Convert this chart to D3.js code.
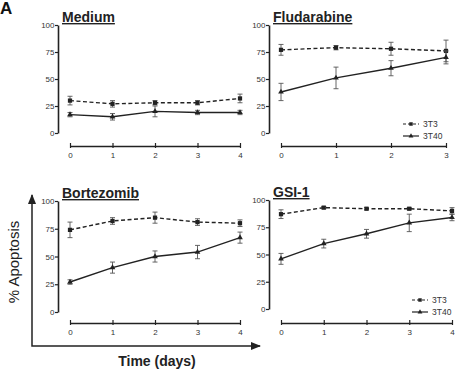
<!DOCTYPE html>
<html>
<head>
<meta charset="utf-8">
<script src="https://cdn.jsdelivr.net/npm/d3@7"></script>
<style>
  body { margin: 0; background: #fff; }
  svg { font-family: "Liberation Sans", Arial, sans-serif; }
</style>
</head>
<body>
<svg width="474" height="374"></svg>
<script>
var svg = d3.select("svg")

// ---- data ----
var titles = ["Medium", "Fludarabine", "Bortezomib", "GSI-1"]
var days4 = [0, 1, 2, 3, 4]
var days3 = [0, 1, 2, 3]
var yTicks = [0, 25, 50, 75, 100]
var seriesNames = ["3T3", "3T40"]

var medium3T3 = [30, 27, 28, 28, 32]
var medium3T3Err = [4, 3, 2, 2, 4]
var medium3T40 = [17, 15, 20, 19, 19]
var medium3T40Err = [2, 3, 5, 2, 2]

var fluda3T3 = [77, 79, 78, 76]
var fluda3T3Err = [5, 2, 6, 10]
var fluda3T40 = [38, 51, 60, 70]
var fluda3T40Err = [8, 10, 7, 6]

var bort3T3 = [74, 82, 85, 81, 80]
var bort3T3Err = [7, 3, 5, 3, 3]
var bort3T40 = [27, 40, 50, 54, 67]
var bort3T40Err = [2, 5, 5, 6, 5]

var gsi3T3 = [87, 93, 92, 92, 90]
var gsi3T3Err = [4, 1, 1, 1, 3]
var gsi3T40 = [46, 60, 69, 79, 84]
var gsi3T40Err = [5, 4, 4, 8, 3]

var panels = [
  {title: titles[0], days: days4, a: medium3T3, ae: medium3T3Err, b: medium3T40, be: medium3T40Err,
   x0: 70, x1: 240, yTop: 25, yBot: 133, axX: 58, axY: 146, legend: false},
  {title: titles[1], days: days3, a: fluda3T3, ae: fluda3T3Err, b: fluda3T40, be: fluda3T40Err,
   x0: 281, x1: 446, yTop: 25, yBot: 133, axX: 269, axY: 146, legend: true, lx: 403, ly: 127},
  {title: titles[2], days: days4, a: bort3T3, ae: bort3T3Err, b: bort3T40, be: bort3T40Err,
   x0: 70, x1: 240, yTop: 201, yBot: 312, axX: 58, axY: 323, legend: false},
  {title: titles[3], days: days4, a: gsi3T3, ae: gsi3T3Err, b: gsi3T40, be: gsi3T40Err,
   x0: 281, x1: 452, yTop: 200, yBot: 309, axX: 269, axY: 323, legend: true, lx: 412, ly: 303}
]

var ink = "#222"

panels.forEach(function(p) {
  var x = d3.scaleLinear().domain(d3.extent(p.days)).range([p.x0, p.x1])
  var y = d3.scaleLinear().domain([0, 100]).range([p.yBot, p.yTop])
  var g = svg.append("g")

  // y axis
  var ya = g.append("g")
    .attr("transform", "translate(" + p.axX + ",0)")
    .call(d3.axisLeft(y).tickValues(yTicks).tickSize(3).tickSizeOuter(0))
  ya.select(".domain").attr("stroke", ink).attr("stroke-width", 1.6)
  ya.selectAll(".tick line").attr("stroke", ink).attr("stroke-width", 1.2)
  ya.selectAll(".tick text").attr("font-size", 8).attr("fill", "#333").attr("x", -3.5)
    .attr("font-family", "Liberation Sans, Arial, sans-serif")

  // x axis
  var xa = g.append("g")
    .attr("transform", "translate(0," + p.axY + ")")
    .call(d3.axisBottom(x).tickValues(p.days).tickSize(3).tickSizeOuter(0).tickFormat(d3.format("d")))
  xa.select(".domain").attr("stroke", ink).attr("stroke-width", 1.6)
  xa.selectAll(".tick line").attr("stroke", ink).attr("stroke-width", 1.2).attr("y1", -3).attr("y2", 2)
  xa.selectAll(".tick text").attr("font-size", 8).attr("fill", "#333").attr("y", 6)
    .attr("font-family", "Liberation Sans, Arial, sans-serif")

  // title
  g.append("text")
    .attr("x", p.axX + 4).attr("y", p.yTop - 3)
    .attr("font-size", 14).attr("font-weight", "bold").attr("fill", ink)
    .attr("text-decoration", "underline")
    .text(p.title)

  var series = [
    {v: p.a, e: p.ae, dash: "4,2.5", mark: "square"},
    {v: p.b, e: p.be, dash: null, mark: "triangle"}
  ]

  series.forEach(function(s) {
    var pts = p.days.map(function(d, i) { return {d: d, v: s.v[i], e: s.e[i]} })
    // error bars
    var eb = g.selectAll(null).data(pts).enter().append("g").attr("class", "err")
    eb.append("line")
      .attr("x1", function(d) { return x(d.d) }).attr("x2", function(d) { return x(d.d) })
      .attr("y1", function(d) { return y(d.v - d.e) }).attr("y2", function(d) { return y(d.v + d.e) })
      .attr("stroke", "#555").attr("stroke-width", 0.9)
    ;[-1, 1].forEach(function(sg) {
      eb.append("line")
        .attr("x1", function(d) { return x(d.d) - 2.5 }).attr("x2", function(d) { return x(d.d) + 2.5 })
        .attr("y1", function(d) { return y(d.v + sg * d.e) }).attr("y2", function(d) { return y(d.v + sg * d.e) })
        .attr("stroke", "#555").attr("stroke-width", 0.9)
    })
    // line
    g.append("path")
      .datum(pts)
      .attr("fill", "none").attr("stroke", ink).attr("stroke-width", 1.4)
      .attr("stroke-dasharray", s.dash)
      .attr("d", d3.line().x(function(d) { return x(d.d) }).y(function(d) { return y(d.v) }))
    // markers
    var sym = d3.symbol().type(s.mark === "square" ? d3.symbolSquare : d3.symbolTriangle)
      .size(s.mark === "square" ? 18 : 14)
    g.selectAll(null).data(pts).enter().append("path")
      .attr("d", sym)
      .attr("transform", function(d) { return "translate(" + x(d.d) + "," + y(d.v) + ")" })
      .attr("fill", ink)
  })

  if (p.legend) {
    seriesNames.forEach(function(name, i) {
      var ly = p.ly + i * 12 - 3
      g.append("line")
        .attr("x1", p.lx).attr("x2", p.lx + 16)
        .attr("y1", ly).attr("y2", ly)
        .attr("stroke", ink).attr("stroke-width", 1.2)
        .attr("stroke-dasharray", i === 0 ? "3,2" : null)
      g.append("path")
        .attr("d", d3.symbol().type(i === 0 ? d3.symbolSquare : d3.symbolTriangle).size(i === 0 ? 12 : 10))
        .attr("transform", "translate(" + (p.lx + 8) + "," + ly + ")")
        .attr("fill", ink)
      g.append("text")
        .attr("x", p.lx + 20).attr("y", p.ly + i * 12)
        .attr("font-size", 8.5).attr("fill", "#333")
        .text(name)
    })
  }
})

// panel letter
svg.append("text")
  .attr("x", 0).attr("y", 14)
  .attr("font-size", 17).attr("font-weight", "bold").attr("fill", "#111")
  .text("A")

// outer L-shaped axes with arrows
var defs = svg.append("defs")
defs.append("marker")
  .attr("id", "arr").attr("viewBox", "0 0 10 10")
  .attr("refX", 9).attr("refY", 5)
  .attr("markerWidth", 7).attr("markerHeight", 7)
  .attr("orient", "auto-start-reverse")
  .append("path").attr("d", "M0,1L10,5L0,9Z").attr("fill", ink)

svg.append("path")
  .attr("d", "M32,195 L32,346 L260,346")
  .attr("fill", "none").attr("stroke", ink).attr("stroke-width", 1.5)
  .attr("marker-start", "url(#arr)").attr("marker-end", "url(#arr)")

svg.append("text")
  .attr("transform", "translate(19,262) rotate(-90)")
  .attr("text-anchor", "middle")
  .attr("font-size", 15).attr("fill", "#222")
  .text("% Apoptosis")

svg.append("text")
  .attr("x", 157).attr("y", 366)
  .attr("text-anchor", "middle")
  .attr("font-size", 14).attr("font-weight", "bold").attr("fill", "#222")
  .text("Time (days)")
</script>
</body>
</html>
